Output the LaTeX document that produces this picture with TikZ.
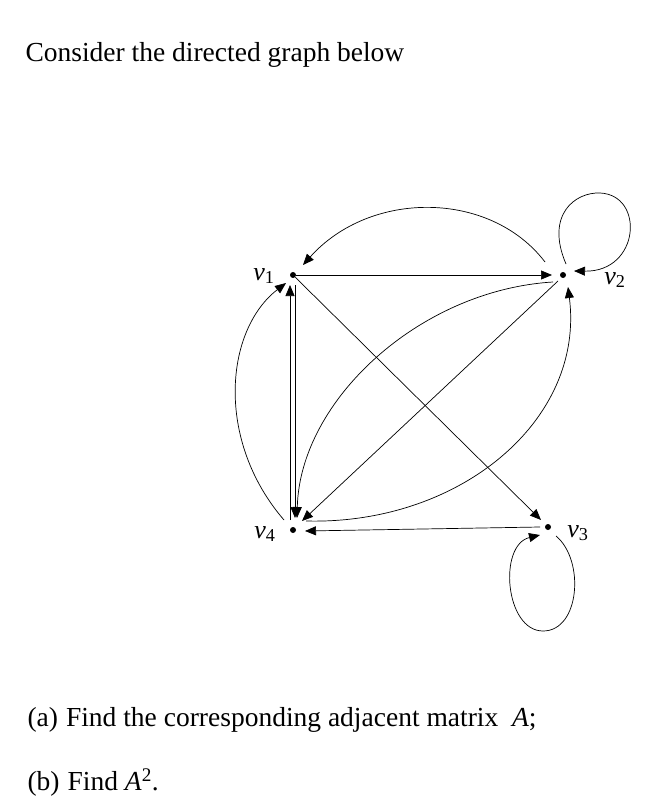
\documentclass[tikz,border=0pt]{standalone}
\usepackage{fontspec}
\setmainfont{Liberation Serif}
\usetikzlibrary{arrows.meta}
\newcommand{\vv}[1]{\textit{v}\textsubscript{#1}}
\begin{document}
\begin{tikzpicture}[x=1pt,y=-1pt,
  vert/.style={circle,fill=black,inner sep=0pt,minimum size=6pt},
  edge/.style={-{Triangle[length=11pt,width=9pt]},line width=0.7pt},
  lbl/.style={font=\fontsize{27.5}{32}\selectfont},
  vl/.style={font=\fontsize{26}{30}\selectfont}]
\useasboundingbox (0,0) rectangle (664,802);
\node[lbl,anchor=west] (t) at (22,55) {Consider the directed graph below};
\node[vert] (v1) at (293,275) {};
\node[vert] (v2) at (563,275) {};
\node[vert] (v3) at (548,527) {};
\node[vert] (v4) at (293,530) {};
\node[vl] (l1) at (264,276) {\vv{1}};
\node[vl] (l2) at (615,280) {\vv{2}};
\node[vl] (l3) at (578,533) {\vv{3}};
\node[vl] (l4) at (265,534) {\vv{4}};
\coordinate (v1a) at (303,265);
\coordinate (v1b) at (290,285);
\coordinate (v1c) at (295,285);
\coordinate (v1d) at (286,283);
\coordinate (v2a) at (545,262);
\coordinate (v2b) at (568,287);
\coordinate (v2c) at (553,282);
\coordinate (v2d) at (558,281);
\coordinate (v2e) at (566,264);
\coordinate (v2f) at (574,271);
\coordinate (v4a) at (290,520);
\coordinate (v4b) at (295,518);
\coordinate (v4c) at (297,518);
\coordinate (v4d) at (302,521);
\coordinate (v4e) at (306,521);
\coordinate (v4f) at (284,520);
\coordinate (v4g) at (305,531);
\coordinate (v3a) at (541,520);
\coordinate (v3b) at (540,527);
\coordinate (v3c) at (556,536);
\coordinate (v3d) at (540,535);
\draw[edge] (v1) -- ([xshift=-11pt]v2.center);
\draw[edge] (v2a) .. controls (490,190) and (370,190) .. (v1a);
\draw[edge] (v4a) -- (v1b);
\draw[edge] (v1c) -- (v4b);
\draw[edge] (v1) -- (v3a);
\draw[edge] (v2d) -- (v4d);
\draw[edge] (v2c) .. controls (420,290) and (300,400) .. (v4c);
\draw[edge] (v4e) .. controls (460,525) and (585,420) .. (v2b);
\draw[edge] (v4f) .. controls (215,440) and (225,330) .. (v1d);
\draw[edge] (v3b) -- (v4g);
\draw[edge] (v2e) .. controls (545,215) and (575,192) .. (600,193) .. controls (645,195) and (640,272) .. (v2f);
\draw[edge] (v3c) .. controls (585,560) and (580,631) .. (543,631) .. controls (505,631) and (498,545) .. (v3d);
\node[lbl,anchor=west] (a1) at (24,720) {(a)\hspace{8pt}Find the corresponding adjacent matrix \ \textit{A};};
\node[lbl,anchor=west] (b1) at (24,783) {(b)\hspace{8pt}Find \textit{A}\textsuperscript{2}.};
\end{tikzpicture}
\end{document}
